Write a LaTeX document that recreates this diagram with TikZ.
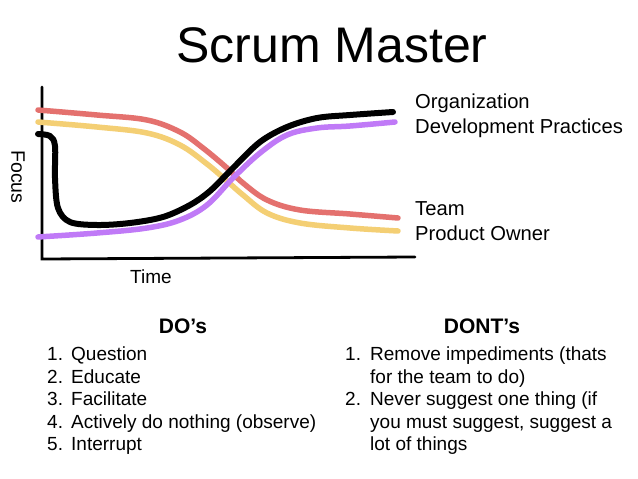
\documentclass[tikz,border=0pt]{standalone}
\usepackage{fontspec}
\setmainfont{Liberation Sans}
\definecolor{cred}{HTML}{E4716E}
\definecolor{cyel}{HTML}{F4CF74}
\definecolor{cpur}{HTML}{C07AF7}
\begin{document}
\begin{tikzpicture}[x=1pt,y=-1pt,
  txt/.style={inner sep=0pt,anchor=base west,font=\fontsize{19}{22}\selectfont},
  lbl/.style={inner sep=0pt,anchor=base west,font=\fontsize{20.2}{24}\selectfont},
  head/.style={inner sep=0pt,anchor=base,font=\fontsize{21}{24}\selectfont\bfseries},
  curve/.style={line width=5.5pt,line cap=round,line join=round},
  axis/.style={line width=2.8pt,line cap=round}]
\useasboundingbox (0,0) rectangle (638,479);
\fill[white] (0,0) rectangle (638,479);
% title
\node[inner sep=0pt,anchor=base,font=\fontsize{50}{56}\selectfont] (title) at (332,62) {Scrum Master};
% axes
\coordinate (top) at (42,87);
\coordinate (origin) at (42,259);
\coordinate (xend) at (415,257);
\draw[axis] (top) -- (origin) -- (xend);
% curves
\draw[curve,cred] plot[smooth,tension=0.6] coordinates {(38,110) (97,115) (147,120) (180,132) (203,148) (227,168) (243,183) (267,200) (300,210) (350,214) (398,218)};
\draw[curve,cyel] plot[smooth,tension=0.6] coordinates {(38,122) (97,127) (147,133) (180,145) (207,164) (227,181) (243,195) (267,213) (300,223) (350,228) (398,231)};
\draw[curve,cpur] plot[smooth,tension=0.6] coordinates {(38,237) (97,233) (147,228) (180,220) (207,205) (233,178) (260,153) (287,135) (317,128) (350,126) (395,122)};
\draw[curve,black,line width=6pt] plot[smooth,tension=0.55] coordinates {(38,134) (50,136) (55,146) (55,178) (58,208) (70,222) (97,225) (130,223) (163,217) (190,205) (210,191) (233,168) (260,142) (287,127) (317,118) (350,115) (393,112)};
% axis labels
\node[lbl,font=\fontsize{19}{22}\selectfont] (time) at (130,283) {Time};
\node[inner sep=0pt,rotate=-90,font=\fontsize{19.5}{22}\selectfont] (focus) at (18,177) {Focus};
% curve labels
\node[lbl] (org) at (415,108) {Organization};
\node[lbl] (dev) at (415,133) {Development Practices};
\node[lbl] (team) at (415,215) {Team};
\node[lbl] (po) at (415,240) {Product Owner};
% headings
\node[head] (dos) at (183,333) {DO’s};
\node[head] (donts) at (482,333) {DONT’s};
% DO list
\node[txt] (n1) at (47,360) {1.};
\node[txt] (n2) at (47,383) {2.};
\node[txt] (n3) at (47,405) {3.};
\node[txt] (n4) at (47,428) {4.};
\node[txt] (n5) at (47,450) {5.};
\node[txt] (d1) at (71,360) {Question};
\node[txt] (d2) at (71,383) {Educate};
\node[txt] (d3) at (71,405) {Facilitate};
\node[txt] (d4) at (71,428) {Actively do nothing (observe)};
\node[txt] (d5) at (71,450) {Interrupt};
% DONT list
\node[txt] (m1) at (345,360) {1.};
\node[txt] (m2) at (345,405) {2.};
\node[txt] (e1) at (370,360) {Remove impediments (thats};
\node[txt] (e1b) at (370,383) {for the team to do)};
\node[txt] (e2) at (370,405) {Never suggest one thing (if};
\node[txt] (e2b) at (370,428) {you must suggest, suggest a};
\node[txt] (e2c) at (370,450) {lot of things};
\end{tikzpicture}
\end{document}
